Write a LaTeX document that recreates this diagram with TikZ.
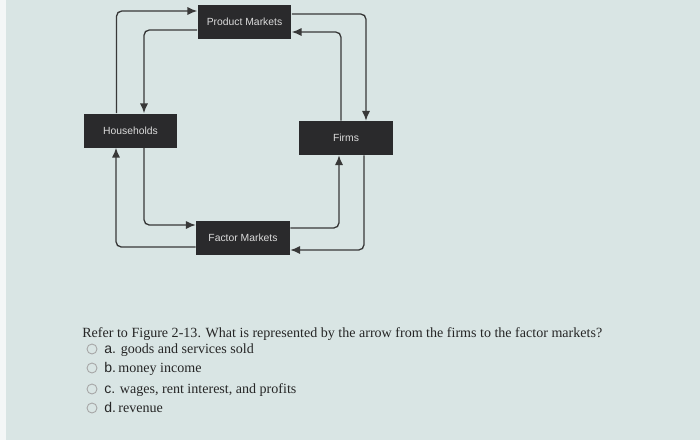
\documentclass[tikz,border=0pt]{standalone}
\usepackage{fontspec}
\setmainfont{Liberation Serif}
\setsansfont{Liberation Sans}
\usetikzlibrary{arrows.meta}
\definecolor{bgcol}{HTML}{D9E5E4}
\definecolor{boxcol}{HTML}{2A2A2C}
\definecolor{boxtxt}{HTML}{DCDCDC}
\definecolor{linecol}{HTML}{383838}
\tikzset{
  box/.style={fill=boxcol,text=boxtxt,minimum width=1.88cm,minimum height=0.68cm,inner sep=0pt,font=\sffamily\fontsize{5.9}{6}\selectfont},
  flow/.style={draw=linecol,line width=0.75pt,rounded corners=3pt,-{Latex[length=5.5pt,width=4.6pt]}},
  qtext/.style={anchor=base west,inner sep=0pt,text=black!85,font=\fontsize{8}{9}\selectfont},
  radio/.style={circle,draw=gray!70,line width=0.5pt,minimum size=0.2cm,inner sep=0pt}
}
\begin{document}
\begin{tikzpicture}[x=0.02cm,y=-0.02cm]
	\fill[bgcol] (0,0) rectangle (700,440);
	\fill[white!70!bgcol] (0,0) rectangle (6,440);
	\node[box] (pm) at (244.5,21.5) {Product Markets};
	\node[box] (hh) at (130.5,130.5) {Households};
	\node[box] (fi) at (346,138) {Firms};
	\node[box] (fm) at (243,237.5) {Factor Markets};
	\draw[flow] ([shift={(-14,0)}]hh.north) |- ([shift={(0,-10.5)}]pm.west);
	\draw[flow] ([shift={(0,8.5)}]pm.west) -| ([shift={(13.5,0)}]hh.north);
	\draw[flow] ([shift={(0,-7.5)}]pm.east) -| ([shift={(20,0)}]fi.north);
	\draw[flow] ([shift={(-5,0)}]fi.north) |- ([shift={(0,10.5)}]pm.east);
	\draw[flow] ([shift={(13.5,0)}]hh.south) |- ([shift={(0,-12.5)}]fm.west);
	\draw[flow] ([shift={(0,9.5)}]fm.west) -| ([shift={(-14.5,0)}]hh.south);
	\draw[flow] ([shift={(0,-9.5)}]fm.east) -| ([shift={(-7,0)}]fi.south);
	\draw[flow] ([shift={(18,0)}]fi.south) |- ([shift={(0,12.5)}]fm.east);
	\node[qtext] (q) at (82,337) {Refer to Figure 2-13. What is represented by the arrow from the firms to the factor markets?};
	\node[radio] (ca) at (92,349) {};
	\node[radio] (cb) at (92,368) {};
	\node[radio] (cc) at (92,389) {};
	\node[radio] (cd) at (92,408) {};
	\node[qtext] (oa) at (104,353) {{\sffamily a.} goods and services sold};
	\node[qtext] (ob) at (104,372) {{\sffamily b.}\,money income};
	\node[qtext] (oc) at (104,393) {{\sffamily c.} wages, rent interest, and profits};
	\node[qtext] (od) at (104,412) {{\sffamily d.}\,revenue};
\end{tikzpicture}
\end{document}
